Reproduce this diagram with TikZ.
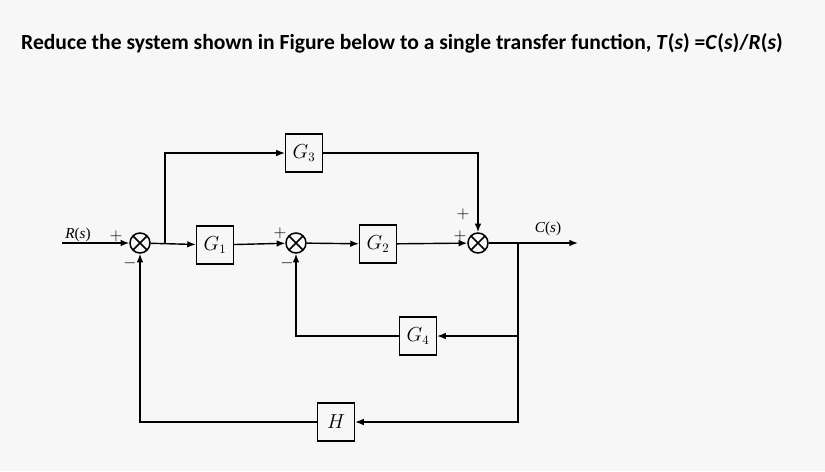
\documentclass[tikz,border=0pt]{standalone}
\usepackage{fontspec}
\setmainfont{Carlito}
\newfontfamily\serf{Liberation Serif}
\usetikzlibrary{arrows.meta}
\begin{document}
\begin{tikzpicture}[x=0.03cm,y=-0.03cm,
  blk/.style={draw,line width=1.3pt,minimum width=1.1cm,minimum height=1.15cm,font=\serf\itshape\fontsize{16}{18}\selectfont},
  sumj/.style={draw,circle,line width=1.3pt,minimum size=0.6cm,inner sep=0pt,path picture={\draw[line width=1.3pt] (path picture bounding box.north west)--(path picture bounding box.south east) (path picture bounding box.north east)--(path picture bounding box.south west);}},
  ar/.style={line width=1.2pt,-{Latex[length=2.6mm,width=2mm]}},
  sg/.style={font=\serf\bfseries\fontsize{14}{16}\selectfont,inner sep=1pt}]
\fill[gray!6] (0,0) rectangle (825,471);
\useasboundingbox (0,0) rectangle (825,471);
\node[font=\bfseries\fontsize{18.4}{21}\selectfont] (title) at (402,43) {Reduce the system shown in Figure below to a single transfer function, \textit{T}(\textit{s}) =\textit{C}(\textit{s})/\textit{R}(\textit{s})};
\node[sumj] (s1) at (140,243) {};
\node[sumj] (s2) at (296,243) {};
\node[sumj] (s3) at (478,243) {};
\node[blk] (g1) at (215,245) {$G_1$};
\node[blk] (g2) at (378,244) {$G_2$};
\node[blk] (g3) at (304,153) {$G_3$};
\node[blk] (g4) at (418,336) {$G_4$};
\node[blk] (h) at (336,422) {$H$};
\coordinate (rin) at (62,243);
\coordinate (cout) at (578,243);
\coordinate (b1) at (165,243);
\coordinate (b2) at (518,243);
\node[font=\serf\fontsize{13}{15}\selectfont] (rl) at (78,235) {\textit{R}(\textit{s})};
\node[font=\serf\fontsize{13}{15}\selectfont] (cl) at (548,229) {\textit{C}(\textit{s})};
\draw[ar] (rin) -- (s1);
\draw[ar] (s1) -- (g1);
\draw[ar] (g1) -- (s2);
\draw[ar] (s2) -- (g2);
\draw[ar] (g2) -- (s3);
\draw[ar] (s3) -- (cout);
\draw[ar] (b1) |- (g3);
\draw[ar] (g3) -| (s3);
\draw[ar] (b2) |- (g4);
\draw[ar] (g4) -| (s2);
\draw[ar] (b2) |- (h);
\draw[ar] (h) -| (s1);
\node[sg] (p1) at (116,236) {$+$};
\node[sg] (m1) at (130,263) {$-$};
\node[sg] (p2) at (280,233) {$+$};
\node[sg] (m2) at (287,263) {$-$};
\node[sg] (p3a) at (463,214) {$+$};
\node[sg] (p3b) at (460,236) {$+$};
\end{tikzpicture}
\end{document}
